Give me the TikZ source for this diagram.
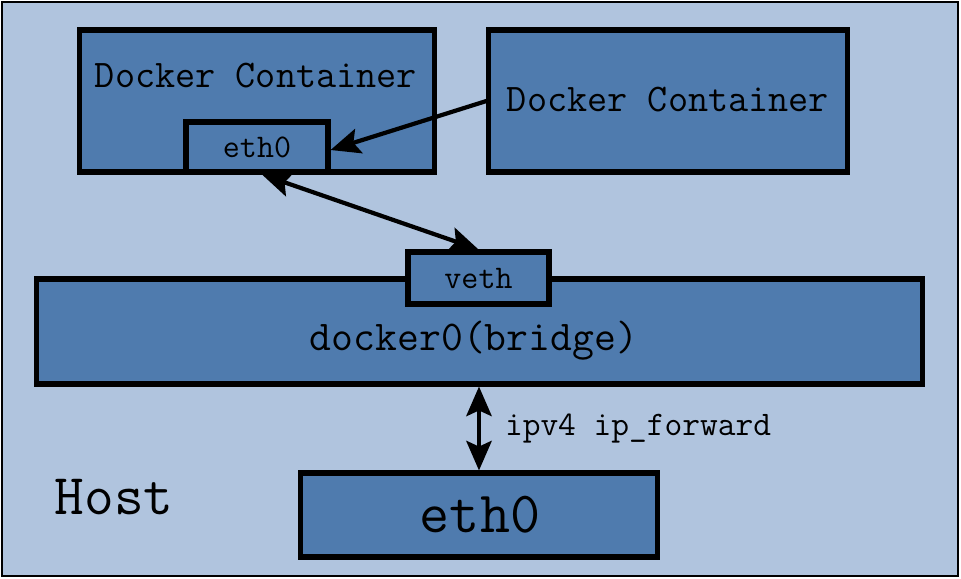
\documentclass[tikz,border=0pt]{standalone}
\usepackage{fontspec}
\usepackage{tikz}
\usetikzlibrary{arrows.meta,positioning}
\definecolor{hostbg}{HTML}{B0C4DE}
\definecolor{boxfill}{HTML}{4F7BAE}
\tikzset{
  box/.style={draw=black,fill=boxfill,line width=3.6pt,inner sep=0pt},
  lbl/.style={font=\ttfamily\fontsize{#1}{#1}\selectfont,inner sep=0pt},
  link/.style={line width=3pt,-{Stealth[length=21pt,width=18pt,inset=4pt]}},
  duplex/.style={line width=3pt,{Stealth[length=21pt,width=18pt,inset=4pt]}-{Stealth[length=21pt,width=18pt,inset=4pt]}}
}

\begin{document}
\begin{tikzpicture}[x=0.025cm,y=-0.025cm]
  \useasboundingbox (0,0) rectangle (961,579);
  \draw[fill=hostbg,line width=1.6pt] (2,2) rectangle (958,576);
  % containers
  \node[box,minimum width=8.85cm,minimum height=3.55cm] (c1) at (257,101) {};
  \node[lbl=27.8pt] (c1-text) at (256,76) {Docker Container};
  \node[box,minimum width=3.55cm,minimum height=1.25cm] (e1) at (257,147) {};
  \node[lbl=23.5pt] (e1-text) at (257,147) {eth0};
  \node[box,minimum width=8.95cm,minimum height=3.55cm] (c2) at (668,101) {};
  \node[lbl=27.8pt] (c2-text) at (668,100) {Docker Container};
  % bridge
  \node[box,minimum width=22.125cm,minimum height=2.625cm] (br) at (479.5,331.5) {};
  \node[lbl=30.2pt] (br-text) at (474,341) {docker0(bridge)};
  \node[box,minimum width=3.525cm,minimum height=1.3cm] (veth) at (478.5,278) {};
  \node[lbl=23.5pt] (veth-text) at (478.5,278) {veth};
  % host
  \node[box,minimum width=8.9cm,minimum height=2.1cm] (e2) at (479,515) {};
  \node[lbl=41.5pt] (e2-text) at (480,515) {eth0};
  \node[lbl=41pt] (host) at (114,497) {Host};
  \draw[link] (c2.west) -- ([yshift=-0.075cm]e1.east);
  \draw[duplex] ([xshift=0.125cm]e1.south) -- (veth.north);
  \draw[duplex] (e2.north |- br.south) -- node[lbl=24.5pt,right=17pt] {ipv4 ip\_forward} (e2.north);
\end{tikzpicture}
\end{document}
